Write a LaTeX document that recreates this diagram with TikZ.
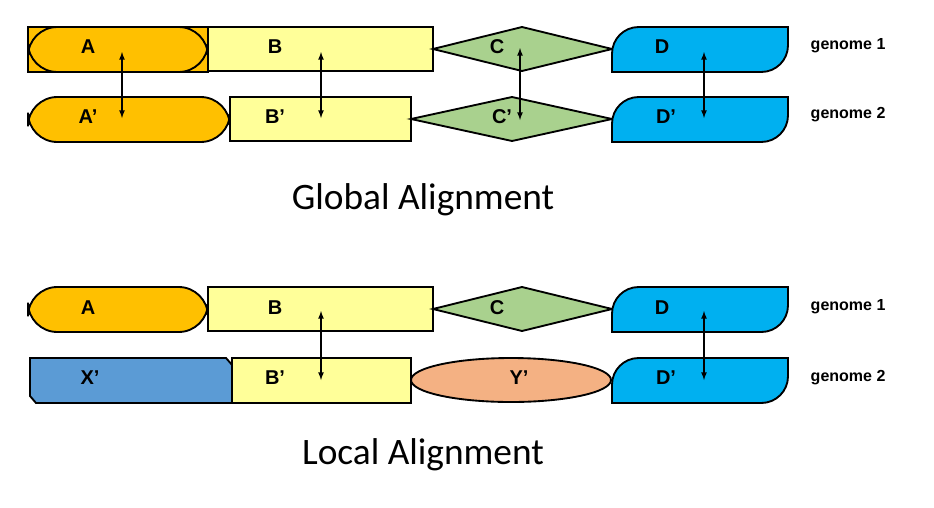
\documentclass[tikz,border=0pt]{standalone}
\usepackage{fontspec}
\setmainfont{Liberation Sans}
\newfontfamily\titlefont{Carlito}
\begin{document}
\begin{tikzpicture}[x=0.75pt,y=-0.75pt,
 shp/.style={draw=black,line width=1.4pt},
 lbl/.style={font=\bfseries\fontsize{15}{15}\selectfont,anchor=center},
 gl/.style={font=\bfseries\fontsize{12}{12}\selectfont,anchor=west},
 ttl/.style={font=\titlefont\fontsize{28}{30}\selectfont},
 arr/.style={<->,>=latex,line width=1pt}]
\useasboundingbox (0,0) rectangle (934,507);
\definecolor{cor}{HTML}{FFC000}\definecolor{cye}{HTML}{FFFF99}
\definecolor{cgr}{HTML}{A9D18E}\definecolor{cbl}{HTML}{00B0F0}
\definecolor{cx}{HTML}{5B9BD5}\definecolor{cy}{HTML}{F4B183}
% ---------- Global ----------
\draw[shp,fill=cor] (28,27) rectangle (208,72) [rounded corners=22] ;
\fill[white] (0,0) rectangle (0,0);
\draw[shp,fill=cor,rounded corners=22] (28,27) rectangle (208,72);
\draw[shp,fill=cye] (208,27) rectangle (433,71);
\draw[shp,fill=cgr] (433,49) -- (522,27) -- (612,49) -- (522,71) -- cycle;
\draw[shp,fill=cbl] (612,72) [rounded corners=20] -- (612,27) [sharp corners] -- (788,27) [rounded corners=20] -- (788,72) [sharp corners] -- cycle;
\draw[shp,fill=cor,rounded corners=22] (28,97) rectangle (230,142);
\draw[shp,fill=cye] (230,97) rectangle (411,141);
\draw[shp,fill=cgr] (411,119) -- (512,97) -- (612,119) -- (512,141) -- cycle;
\draw[shp,fill=cbl] (612,142) [rounded corners=20] -- (612,97) [sharp corners] -- (788,97) [rounded corners=20] -- (788,142) [sharp corners] -- cycle;
\node[lbl] (a1) at (88,47) {A};
\node[lbl] (b1) at (275,47) {B};
\node[lbl] (c1) at (497,47) {C};
\node[lbl] (d1) at (662,47) {D};
\node[lbl] (a2) at (88,117) {A’};
\node[lbl] (b2) at (275,117) {B’};
\node[lbl] (c2) at (502,117) {C’};
\node[lbl] (d2) at (666,117) {D’};
\node[gl] (g1) at (806,46) {genome 1};
\node[gl] (g2) at (806,115) {genome 2};
\coordinate (pa1) at (122,52); \coordinate (pa2) at (122,118);
\coordinate (pb1) at (321,52); \coordinate (pb2) at (321,118);
\coordinate (pc1) at (520,48); \coordinate (pc2) at (520,120);
\coordinate (pd1) at (704,52); \coordinate (pd2) at (704,118);
\draw[arr] (pa1) -- (pa2); \draw[arr] (pb1) -- (pb2);
\draw[arr] (pc1) -- (pc2); \draw[arr] (pd1) -- (pd2);
\node[ttl] (tg) at (423,200) {Global Alignment};
% ---------- Local ----------
\draw[shp,fill=cor,rounded corners=22] (28,287) rectangle (208,332);
\draw[shp,fill=cye] (208,287) rectangle (433,331);
\draw[shp,fill=cgr] (433,309) -- (522,287) -- (612,309) -- (522,331) -- cycle;
\draw[shp,fill=cbl] (612,332) [rounded corners=20] -- (612,287) [sharp corners] -- (788,287) [rounded corners=20] -- (788,332) [sharp corners] -- cycle;
\draw[shp,fill=cx] (30,358) -- (226,358) -- (233,366) -- (233,403) -- (36,403) -- (30,396) -- cycle;
\draw[shp,fill=cye] (232,358) rectangle (411,403);
\draw[shp,fill=cy] (511,380) ellipse [x radius=100,y radius=22];
\draw[shp,fill=cbl] (612,403) [rounded corners=20] -- (612,358) [sharp corners] -- (788,358) [rounded corners=20] -- (788,403) [sharp corners] -- cycle;
\node[lbl] (a3) at (88,308) {A};
\node[lbl] (b3) at (275,308) {B};
\node[lbl] (c3) at (497,308) {C};
\node[lbl] (d3) at (662,308) {D};
\node[lbl] (x4) at (90,378) {X’};
\node[lbl] (b4) at (275,378) {B’};
\node[lbl] (y4) at (519,378) {Y’};
\node[lbl] (d4) at (666,378) {D’};
\node[gl] (g3) at (806,307) {genome 1};
\node[gl] (g4) at (806,378) {genome 2};
\coordinate (pb3) at (321,311); \coordinate (pb4) at (321,380);
\coordinate (pd3) at (704,311); \coordinate (pd4) at (704,380);
\draw[arr] (pb3) -- (pb4); \draw[arr] (pd3) -- (pd4);
\node[ttl] (tl) at (423,455) {Local Alignment};
\end{tikzpicture}
\end{document}
